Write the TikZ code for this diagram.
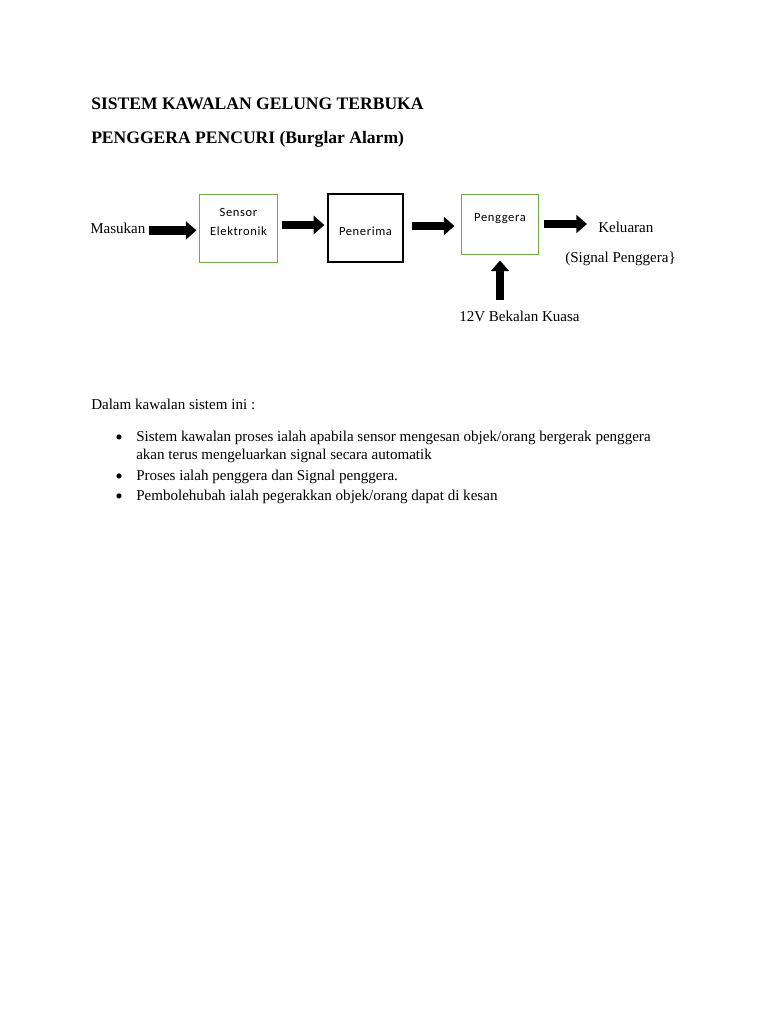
\documentclass[tikz,border=0pt]{standalone}
\usepackage{fontspec}
\setmainfont{Liberation Serif}
\newfontfamily\boxfont[LetterSpace=5]{Carlito}
\usetikzlibrary{arrows.meta}
\definecolor{boxgreen}{RGB}{112,173,71}

\begin{document}
\begin{tikzpicture}[x=0.797pt, y=-0.797pt, every node/.style={font=\fontsize{12}{14}\selectfont, inner sep=0pt},
    greenbox/.style={draw=boxgreen, line width=0.8pt},
    blackbox/.style={draw=black, line width=0.9pt},
    boxtext/.style={font=\boxfont\fontsize{10}{15}\selectfont, align=center},
    blockarrow/.style={line width=6.6pt, -{Triangle[length=8.5pt, width=14.3pt]}}]
        \useasboundingbox (0,0) rectangle (768,1024);

        % Headings
        \node[anchor=base west, font=\bfseries\fontsize{14}{16}\selectfont] (title) at (91,109) {SISTEM KAWALAN GELUNG TERBUKA};
        \node[anchor=base west, font=\bfseries\fontsize{14}{16}\selectfont] (subtitle) at (91,143) {PENGGERA PENCURI (Burglar Alarm)};

        % Blocks
        \node[greenbox, minimum width=61.4pt, minimum height=54.2pt] (sensor) at (238.5,228) {};
        \node[boxtext] at ([yshift=4.5pt]sensor.center) {Sensor\\Elektronik};
        \node[blackbox, minimum width=59.8pt, minimum height=54.2pt] (penerima) at (365.5,228) {};
        \node[boxtext] at ([yshift=-2.4pt]penerima.center) {Penerima};
        \node[greenbox, minimum width=60.6pt, minimum height=48.6pt] (penggera) at (500,224.5) {};
        \node[boxtext] at ([yshift=5pt]penggera.center) {Penggera};

        % Input, output and supply
        \node[anchor=base west] (masukan) at (90,233) {Masukan};
        \node[anchor=base west] (keluaran) at (598,232) {Keluaran};
        \node[anchor=base west] (signal) at (565,262) {(Signal Penggera\}};
        \node[anchor=base west] (kuasa) at (459,321) {12V Bekalan Kuasa};

        % Block arrows
        \draw[blockarrow, shorten <=2.4pt, shorten >=2.4pt] ([yshift=-2pt]masukan.east) -- ([yshift=-2pt]masukan.east -| sensor.west);
        \draw[blockarrow, shorten <=3.2pt, shorten >=2.4pt] ([yshift=2.4pt]sensor.east) -- ([yshift=2.4pt]penerima.west);
        \draw[blockarrow, shorten <=7pt, shorten >=5.6pt] ([yshift=1.6pt]penerima.east) -- ([yshift=1.6pt]penerima.east -| penggera.west);
        \draw[blockarrow, shorten <=4pt, shorten >=8.8pt] ([yshift=0.4pt]penggera.east) -- ([yshift=0.4pt]penggera.east -| keluaran.west);
        \draw[blockarrow, shorten <=8pt, shorten >=4pt] (penggera.south |- kuasa.north) -- (penggera.south);

        % Notes
        \node[anchor=base west] (dalam) at (91,409) {Dalam kawalan sistem ini :};
        \foreach \yy/\txt in {441/{Sistem kawalan proses ialah apabila sensor mengesan objek/orang bergerak penggera},
                              480/{Proses ialah penggera dan Signal penggera.},
                              500/{Pembolehubah ialah pegerakkan objek/orang dapat di kesan}} {
            \node[anchor=base west, font=\fontsize{17}{14}\selectfont] at (115,\yy+3) {\textbullet};
            \node[anchor=base west] at (136,\yy) {\txt};
        }
        \node[anchor=base west] (cont) at (136,459) {akan terus mengeluarkan signal secara automatik};
\end{tikzpicture}
\end{document}
